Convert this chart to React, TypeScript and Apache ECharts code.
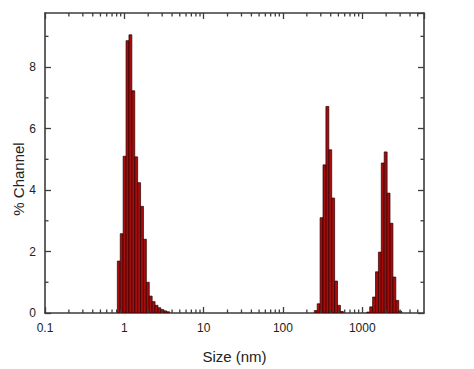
import React, { useEffect, useRef } from "react";
import * as echarts from "echarts";

// Bin centre sizes (nm) and % channel values
const peak1Sizes = [0.852, 0.927, 1.008, 1.097, 1.193, 1.298, 1.412, 1.536, 1.671, 1.818, 1.978, 2.152, 2.341, 2.547, 2.771, 3.015, 3.28, 3.568];
const peak1Values = [1.69, 2.58, 5.1, 8.86, 9.05, 7.23, 5.08, 4.24, 3.47, 2.4, 1.0, 0.55, 0.37, 0.25, 0.17, 0.11, 0.07, 0.04];
const peak2Sizes = [259.1, 281.9, 306.6, 333.6, 362.9, 394.8, 429.5, 467.3, 508.3, 553.0];
const peak2Values = [0.08, 0.3, 3.1, 4.82, 6.72, 5.31, 3.74, 1.04, 0.25, 0.05];
const peak3Sizes = [1189, 1294, 1408, 1531, 1666, 1812, 1972, 2145, 2333, 2538, 2762, 3005];
const peak3Values = [0.03, 0.2, 0.52, 1.34, 1.98, 4.88, 5.24, 3.9, 2.92, 1.17, 0.41, 0.06];

const xMin = 0.1;
const xMax = 6000;
const yMin = 0;
const yMax = 9.76;
const yMajorInterval = 2;
const yMinorTicks = [1, 3, 5, 7, 9];
const decades = [0.1, 1, 10, 100, 1000];
const minorMultipliers = [2, 3, 4, 5, 6, 7, 8, 9];

const BIN_RATIO = 1.0879; // width of one log-spaced bin

const FONT = "Liberation Sans, Arial, Helvetica, sans-serif";
const AXIS_COLOR = "#3c3c3c";

export default function App() {
  const ref = useRef<HTMLDivElement>(null);

  useEffect(() => {
    if (!ref.current) return;
    const chart = echarts.init(ref.current, undefined, { renderer: "svg" });

    const barData: number[][] = [];
    [
      [peak1Sizes, peak1Values],
      [peak2Sizes, peak2Values],
      [peak3Sizes, peak3Values],
    ].forEach(([s, v]) => s.forEach((size, i) => barData.push([size, v[i]])));

    const xMinor: number[] = [];
    decades.forEach((d) =>
      minorMultipliers.forEach((m) => {
        const val = d * m;
        if (val < xMax) xMinor.push(val);
      })
    );

    const half = Math.sqrt(BIN_RATIO);

    const tickLine = (x1: number, y1: number, x2: number, y2: number) => ({
      type: "line",
      shape: { x1, y1, x2, y2 },
      style: { stroke: AXIS_COLOR, lineWidth: 1.3 },
    });

    const axisLine = { show: true, onZero: false, lineStyle: { color: AXIS_COLOR, width: 1.6 } };
    const axisTick = { show: true, inside: true, length: 6, lineStyle: { color: AXIS_COLOR, width: 1.3 } };

    chart.setOption({
      animation: false,
      backgroundColor: "#ffffff",
      grid: { left: 45, top: 13, right: 50, bottom: 46, containLabel: false },
      xAxis: [
        {
          type: "log",
          logBase: 10,
          min: xMin,
          max: xMax,
          position: "bottom",
          name: "Size (nm)",
          nameLocation: "middle",
          nameGap: 36,
          nameTextStyle: { fontFamily: FONT, fontSize: 15, color: "#222" },
          axisLine,
          axisTick,
          minorTick: { show: false },
          splitLine: { show: false },
          axisLabel: {
            fontFamily: FONT,
            fontSize: 12,
            color: "#222",
            margin: 9,
            showMaxLabel: false,
            formatter: (v: number) => (v < 1 ? v.toFixed(1) : String(Math.round(v))),
          },
        },
        {
          type: "log",
          logBase: 10,
          min: xMin,
          max: xMax,
          position: "top",
          axisLine,
          axisTick,
          axisLabel: { show: false },
          splitLine: { show: false },
        },
      ],
      yAxis: [
        {
          type: "value",
          min: yMin,
          max: yMax,
          interval: yMajorInterval,
          position: "left",
          axisLine,
          axisTick,
          splitLine: { show: false },
          axisLabel: {
            fontFamily: FONT,
            fontSize: 12,
            color: "#222",
            margin: 9,
            showMaxLabel: false,
          },
        },
        {
          type: "value",
          min: yMin,
          max: yMax,
          interval: yMajorInterval,
          position: "right",
          axisLine,
          axisTick,
          splitLine: { show: false },
          axisLabel: { show: false },
        },
      ],
      graphic: [
        {
          type: "text",
          x: 18,
          y: 179,
          rotation: Math.PI / 2,
          style: {
            text: "% Channel",
            fontFamily: FONT,
            fontSize: 15,
            fill: "#222",
            align: "center",
            verticalAlign: "middle",
          },
        },
      ],
      series: [
        {
          type: "custom",
          name: "% Channel",
          xAxisIndex: 0,
          yAxisIndex: 0,
          clip: true,
          data: barData,
          renderItem: (_params: any, api: any) => {
            const size = api.value(0);
            const v = api.value(1);
            const p0 = api.coord([size / half, v]);
            const p1 = api.coord([size * half, 0]);
            return {
              type: "rect",
              shape: { x: p0[0], y: p0[1], width: p1[0] - p0[0], height: p1[1] - p0[1] },
              style: { fill: "#a50c0c", stroke: "#2a0202", lineWidth: 0.7 },
            };
          },
        },
        {
          type: "custom",
          name: "minor ticks",
          xAxisIndex: 0,
          yAxisIndex: 0,
          silent: true,
          data: [[1, 1]],
          renderItem: (params: any, api: any) => {
            const cs = params.coordSys;
            const top = cs.y;
            const bottom = cs.y + cs.height;
            const left = cs.x;
            const right = cs.x + cs.width;
            const children: any[] = [];
            xMinor.forEach((val) => {
              const x = api.coord([val, 0])[0];
              children.push(tickLine(x, bottom, x, bottom - 3.5));
              children.push(tickLine(x, top, x, top + 3.5));
            });
            yMinorTicks.forEach((val) => {
              const y = api.coord([1, val])[1];
              children.push(tickLine(left, y, left + 3.5, y));
              children.push(tickLine(right, y, right - 3.5, y));
            });
            return { type: "group", children };
          },
        },
      ],
    });

    return () => chart.dispose();
  }, []);

  return (
    <div
      ref={ref}
      style={{ position: "fixed", left: 0, top: 0, width: 474, height: 369, background: "#fff" }}
    />
  );
}
